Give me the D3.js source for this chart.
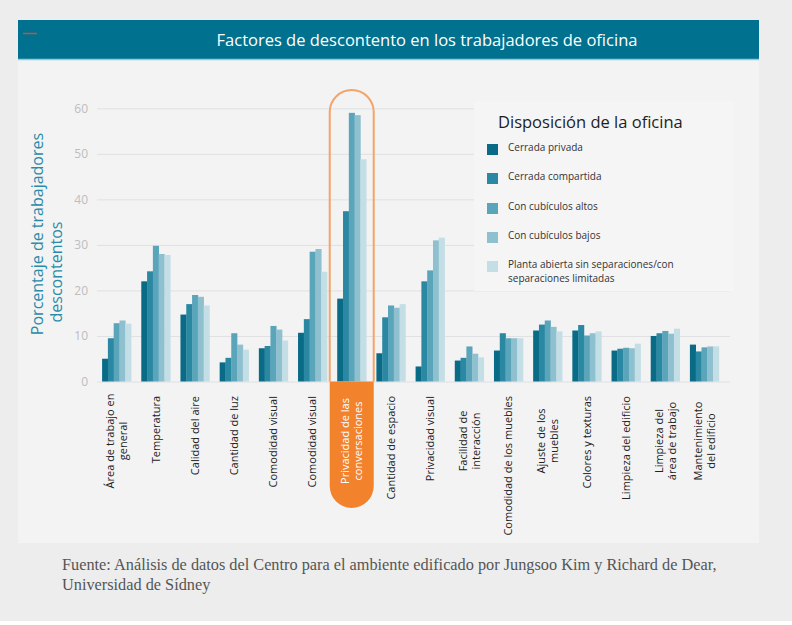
<!DOCTYPE html>
<html>
<head>
<meta charset="utf-8">
<script src="https://cdn.jsdelivr.net/npm/d3@7"></script>
<style>
  body { margin: 0; background: #fff; }
  svg { display: block; }
</style>
</head>
<body>
<div id="chart"></div>
<script>
// ---- data ----
let categories = [
    "Área de trabajo en\ngeneral",
    "Temperatura",
    "Calidad del aire",
    "Cantidad de luz",
    "Comodidad visual",
    "Comodidad visual",
    "Privacidad de las\nconversaciones",
    "Cantidad de espacio",
    "Privacidad visual",
    "Facilidad de\ninteracción",
    "Comodidad de los muebles",
    "Ajuste de los\nmuebles",
    "Colores y texturas",
    "Limpieza del edificio",
    "Limpieza del\nárea de trabajo",
    "Mantenimiento\ndel edificio"
];

let seriesNames = [
    "Cerrada privada",
    "Cerrada compartida",
    "Con cubículos altos",
    "Con cubículos bajos",
    "Planta abierta sin separaciones/con\nseparaciones limitadas"
];

let cerradaPrivada    = [5.0, 22.0, 14.7, 4.2, 7.3, 10.7, 18.2, 6.2, 3.3, 4.6, 6.8, 11.2, 11.2, 6.8, 10.0, 8.1];
let cerradaCompartida = [9.5, 24.2, 17.0, 5.2, 7.8, 13.7, 37.4, 14.1, 22.0, 5.2, 10.6, 12.5, 12.4, 7.2, 10.6, 6.6];
let cubiculosAltos    = [12.8, 29.8, 19.0, 10.6, 12.2, 28.5, 59.0, 16.7, 24.4, 7.7, 9.5, 13.4, 10.1, 7.4, 11.1, 7.5];
let cubiculosBajos    = [13.4, 28.0, 18.6, 8.1, 11.4, 29.1, 58.5, 16.2, 31.0, 6.1, 9.5, 12.0, 10.6, 7.3, 10.5, 7.7];
let plantaAbierta     = [12.7, 27.8, 16.7, 7.0, 9.0, 24.1, 48.8, 17.0, 31.6, 5.3, 9.5, 11.0, 11.0, 8.3, 11.6, 7.7];

let yTicks = [0, 10, 20, 30, 40, 50, 60];
let highlighted = 6; // "Privacidad de las conversaciones"

let allSeries = [cerradaPrivada, cerradaCompartida, cubiculosAltos, cubiculosBajos, plantaAbierta];
let colors = ["#0a6b87", "#2b88a3", "#5aa5ba", "#8fc0cf", "#c4dee6"];

// ---- svg + background panels ----
let width = 792, height = 625;
let svg = d3.select("#chart").append("svg")
    .attr("width", width)
    .attr("height", height);

svg.append("rect").attr("width", width).attr("height", 621).attr("fill", "#ededed");
svg.append("rect").attr("x", 18).attr("y", 59).attr("width", 741).attr("height", 484).attr("fill", "#f3f3f4");
svg.append("rect").attr("x", 18).attr("y", 20).attr("width", 741).attr("height", 39).attr("fill", "#00718e");
svg.append("line").attr("x1", 18).attr("x2", 759).attr("y1", 59.5).attr("y2", 59.5)
    .attr("stroke", "#8fcbdb").attr("stroke-width", 1.5);
svg.append("line").attr("x1", 23).attr("x2", 37).attr("y1", 33.5).attr("y2", 33.5)
    .attr("stroke", "#c0553f").attr("stroke-width", 1.5);

svg.append("text")
    .attr("x", 427).attr("y", 40)
    .attr("dy", "0.35em")
    .attr("text-anchor", "middle")
    .attr("font-family", "'Open Sans', sans-serif")
    .attr("font-size", 16.5)
    .attr("fill", "#fff")
    .text("Factores de descontento en los trabajadores de oficina");

// ---- scales ----
let x = d3.scaleBand()
    .domain(d3.range(categories.length))
    .range([97, 724])
    .paddingInner(0.26)
    .paddingOuter(0.13);

let xInner = d3.scaleBand()
    .domain(d3.range(allSeries.length))
    .range([0, x.bandwidth()]);

let y = d3.scaleLinear()
    .domain([0, 60])
    .range([381.5, 108.3]);

// gridlines
let gridAxis = d3.axisLeft(y).tickValues(yTicks).tickSize(-633).tickFormat("");
let gridG = svg.append("g")
    .attr("transform", "translate(97,0)")
    .call(gridAxis);
gridG.select(".domain").remove();
gridG.selectAll("line").attr("stroke", "#e0e0e2").attr("stroke-width", 1);

// y tick labels
let yAxis = d3.axisLeft(y).tickValues(yTicks).tickSize(0).tickPadding(0);
let yG = svg.append("g")
    .attr("transform", "translate(88,0)")
    .call(yAxis);
yG.select(".domain").remove();
yG.selectAll("text")
    .attr("font-family", "'Open Sans', sans-serif")
    .attr("font-size", 12)
    .attr("fill", "#bdbdbd");

// y title
svg.append("text")
    .attr("transform", "translate(43,234) rotate(-90)")
    .attr("text-anchor", "middle")
    .attr("font-family", "'Open Sans', sans-serif")
    .attr("font-size", 16)
    .attr("fill", "#2a8ba8")
    .text("Porcentaje de trabajadores");
svg.append("text")
    .attr("transform", "translate(62,272) rotate(-90)")
    .attr("text-anchor", "middle")
    .attr("font-family", "'Open Sans', sans-serif")
    .attr("font-size", 16)
    .attr("fill", "#2a8ba8")
    .text("descontentos");

// ---- legend box (covers gridlines) ----
let legend = svg.append("g");
legend.append("rect")
    .attr("x", 474).attr("y", 101).attr("width", 260).attr("height", 190)
    .attr("fill", "#f5f5f6");
legend.append("text")
    .attr("x", 498).attr("y", 122)
    .attr("dy", "0.35em")
    .attr("font-family", "'Open Sans', sans-serif")
    .attr("font-size", 16.5)
    .attr("fill", "#1e1e1e")
    .text("Disposición de la oficina");

let legendY = [150, 179, 209, 238, 267];
let items = legend.selectAll("g.item")
    .data(seriesNames)
    .join("g")
    .attr("class", "item")
    .attr("transform", (d, i) => "translate(487," + legendY[i] + ")");
items.append("rect")
    .attr("x", 0).attr("y", -6).attr("width", 11).attr("height", 11)
    .attr("fill", (d, i) => colors[i]);
items.append("text")
    .attr("font-family", "'Open Sans', sans-serif")
    .attr("font-size", 10)
    .attr("fill", "#333")
    .selectAll("tspan")
    .data(d => d.split("\n"))
    .join("tspan")
    .attr("x", 21)
    .attr("y", (d, i) => -3 + i * 14)
    .attr("dy", "0.35em")
    .text(d => d);

// ---- highlight outline behind bars ----
let hx0 = x(highlighted) + x.bandwidth() / 2 - 22,
    hx1 = x(highlighted) + x.bandwidth() / 2 + 22,
    r = 22;
svg.append("path")
    .attr("d", "M" + hx0 + "," + y(0) + " L" + hx0 + "," + (90 + r) +
        " A" + r + "," + r + " 0 0 1 " + hx1 + "," + (90 + r) +
        " L" + hx1 + "," + y(0))
    .attr("fill", "none")
    .attr("stroke", "#f3a468")
    .attr("stroke-width", 2);

// ---- bars ----
let groups = svg.selectAll("g.cat")
    .data(categories)
    .join("g")
    .attr("class", "cat")
    .attr("transform", (d, i) => "translate(" + x(i) + ",0)");

groups.selectAll("rect")
    .data((d, i) => allSeries.map((s, j) => ({series: j, value: s[i]})))
    .join("rect")
    .attr("x", d => xInner(d.series))
    .attr("width", xInner.bandwidth() + 0.3)
    .attr("y", d => y(d.value))
    .attr("height", d => y(0) - y(d.value))
    .attr("fill", d => colors[d.series]);

// orange pill under the highlighted category
svg.append("path")
    .attr("d", "M" + hx0 + "," + y(0) + " L" + hx1 + "," + y(0) +
        " L" + hx1 + "," + (508 - r) +
        " A" + r + "," + r + " 0 0 1 " + hx0 + "," + (508 - r) + " Z")
    .attr("fill", "#f2822c");

// ---- x labels ----
let labels = svg.selectAll("g.xlab")
    .data(categories)
    .join("g")
    .attr("class", "xlab")
    .attr("transform", (d, i) => {
        let multi = d.indexOf("\n") >= 0;
        return "translate(" + (x(i) + x.bandwidth() / 2) + "," + (multi ? 441 : 396) + ") rotate(-90)";
    });

labels.append("text")
    .attr("text-anchor", d => d.indexOf("\n") >= 0 ? "middle" : "end")
    .attr("font-family", "'Open Sans', sans-serif")
    .attr("font-size", 11)
    .attr("fill", (d, i) => i === highlighted ? "#fff" : "#222")
    .each(function(d) {
        let lines = d.split("\n");
        d3.select(this).selectAll("tspan")
            .data(lines)
            .join("tspan")
            .attr("x", 0)
            .attr("y", (l, k) => (k - (lines.length - 1) / 2) * 13)
            .attr("dy", "0.35em")
            .text(l => l);
    });

// ---- source ----
let source = svg.append("text")
    .attr("font-family", "'Liberation Serif', 'DejaVu Serif', serif")
    .attr("font-size", 16.3)
    .attr("fill", "#555");
source.append("tspan").attr("x", 62).attr("y", 570)
    .text("Fuente: Análisis de datos del Centro para el ambiente edificado por Jungsoo Kim y Richard de Dear,");
source.append("tspan").attr("x", 62).attr("y", 590)
    .text("Universidad de Sídney");
</script>
</body>
</html>
